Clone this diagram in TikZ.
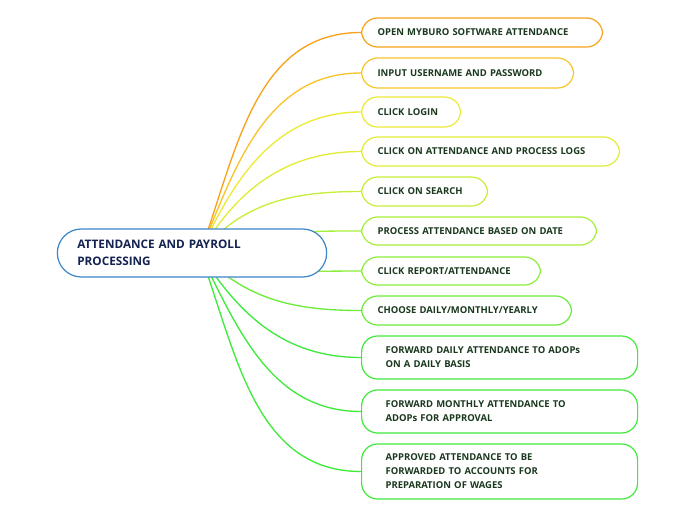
\documentclass[tikz,border=0pt]{standalone}
\usepackage{fontspec}
\setmainfont{Open Sans}
\begin{document}
\begin{tikzpicture}[x=0.75pt,y=-0.75pt,
 child/.style={draw=#1,line width=0.9pt,rounded corners=12pt,fill=white,anchor=west,inner xsep=12pt,inner ysep=0pt,minimum height=22pt,align=left,text={rgb,255:red,26;green,56;blue,30},font=\fontsize{7.1}{10.5}\selectfont\bfseries},
 link/.style={draw=#1,line width=1pt}]
\useasboundingbox (0,0) rectangle (696,520);
\definecolor{c1}{HTML}{F7A21B}\definecolor{c2}{HTML}{F8C42A}\definecolor{c3}{HTML}{EBEA35}
\definecolor{c4}{HTML}{E2EC36}\definecolor{c5}{HTML}{C6EE38}\definecolor{c6}{HTML}{A6EE3A}
\definecolor{c7}{HTML}{8AEE3A}\definecolor{c8}{HTML}{6CEB3A}\definecolor{c9}{HTML}{3FEA3C}
\coordinate (s) at (200,253);
\foreach \i/\y/\h/\w/\o/\t in {
1/32.5/29/241/70/{OPEN MYBURO SOFTWARE ATTENDANCE},
2/73/30/212/68/{INPUT USERNAME AND PASSWORD},
3/112/30/99/66/{CLICK LOGIN},
4/151.5/29/258/60/{CLICK ON ATTENDANCE AND PROCESS LOGS},
5/191.5/29/126/50/{CLICK ON SEARCH},
6/231/28/235/20/{PROCESS ATTENDANCE BASED ON DATE},
7/271/28/179/-20/{CLICK REPORT{/}ATTENDANCE},
8/310.5/29/210/-45/{CHOOSE DAILY{/}MONTHLY{/}YEARLY},
9/357.5/43/276/-58/{\hspace*{6pt}FORWARD DAILY ATTENDANCE TO ADOPs\\\hspace*{6pt}ON A DAILY BASIS},
10/411.5/43/276/-64/{\hspace*{6pt}FORWARD MONTHLY ATTENDANCE TO\\\hspace*{6pt}ADOPs FOR APPROVAL},
11/471.5/55/276/-70/{\hspace*{6pt}APPROVED ATTENDANCE TO BE\\\hspace*{6pt}FORWARDED TO ACCOUNTS FOR\\\hspace*{6pt}PREPARATION OF WAGES}}{
 \pgfmathtruncatemacro\ci{min(\i,9)}
 \node[child=c\ci,minimum height=\h*0.75pt,text width=\w*0.75pt-24pt] (n\i) at (361,\y) {\t};
 \draw[link=c\ci] (s) to[out=\o,in=180] (n\i.west);
}
\node[draw={rgb,255:red,58;green,134;blue,200},line width=0.9pt,rounded corners=18pt,fill=white,
 minimum width=202pt,minimum height=36pt,text width=172pt,align=left,font=\fontsize{8.8}{13}\selectfont\bfseries,
 text={rgb,255:red,20;green,35;blue,80}] (root) at (192,253) {ATTENDANCE AND PAYROLL\\PROCESSING};
\end{tikzpicture}
\end{document}
